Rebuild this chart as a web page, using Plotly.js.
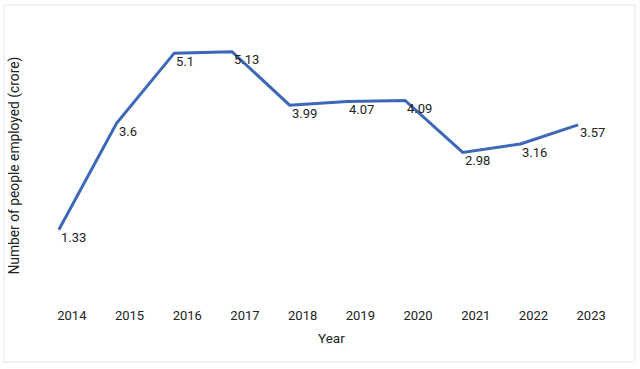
<!DOCTYPE html>
<html>
<head>
<meta charset="utf-8">
<script src="https://cdn.plot.ly/plotly-3.0.1.min.js"></script>
<style>
html,body{margin:0;padding:0;background:#fff;}
#chart{width:640px;height:369px;}
</style>
</head>
<body>
<div id="chart"></div>
<script>
var years = ["2014","2015","2016","2017","2018","2019","2020","2021","2022","2023"];
var employed = [1.33, 3.6, 5.1, 5.13, 3.99, 4.07, 4.09, 2.98, 3.16, 3.57];
var labels = employed.map(function(v){ return String(v); });

var trace = {
  x: years,
  y: employed,
  type: 'scatter',
  mode: 'lines',
  line: {color: '#3d67b8', width: 3},
  hoverinfo: 'x+y',
  cliponaxis: false
};

var dataLabels = years.map(function(yr, i){
  return {text: labels[i], x: i, y: employed[i], xref: 'x', yref: 'y',
    xanchor: 'left', yanchor: 'middle', xshift: 0, yshift: -8, showarrow: false,
    font: {family: 'Roboto, sans-serif', size: 13, color: '#222'}};
});

var layout = {
  width: 640,
  height: 369,
  margin: {l: 30, r: 33, t: 11, b: 77},
  paper_bgcolor: '#fff',
  plot_bgcolor: '#fff',
  showlegend: false,
  font: {family: 'Roboto, sans-serif', color: '#222'},
  xaxis: {
    type: 'category',
    range: [-0.5, 9.5],
    showgrid: false,
    zeroline: false,
    showline: false,
    ticks: '',
    ticklabelshift: 13,
    ticklabelstandoff: 14,
    tickfont: {family: 'Roboto, sans-serif', size: 13, color: '#222'}
  },
  yaxis: {
    range: [0, 6],
    showgrid: false,
    zeroline: false,
    showline: false,
    showticklabels: false,
    ticks: ''
  },
  annotations: dataLabels.concat([
    {text: 'Year', xref: 'paper', yref: 'paper', x: 0.5, y: 0, xanchor: 'center', yanchor: 'middle',
     yshift: -46, xshift: 13, showarrow: false, font: {family: 'Roboto, sans-serif', size: 13.5, color: '#222'}},
    {text: 'Number of people employed (crore)', xref: 'paper', yref: 'paper', x: 0, y: 0.5,
     xanchor: 'center', yanchor: 'middle', xshift: -16, yshift: -14, textangle: -90, showarrow: false,
     font: {family: 'Roboto, sans-serif', size: 13.8, color: '#222'}}
  ]),
  shapes: [
    {type: 'rect', xref: 'paper', yref: 'paper', x0: -26/577, x1: 1 + 28/577, y0: -70/281, y1: 1 + 6/281,
     line: {color: '#e6e6e6', width: 1}, fillcolor: 'rgba(0,0,0,0)', layer: 'below'}
  ]
};

Plotly.newPlot('chart', [trace], layout, {displayModeBar: false, staticPlot: true});
</script>
</body>
</html>
